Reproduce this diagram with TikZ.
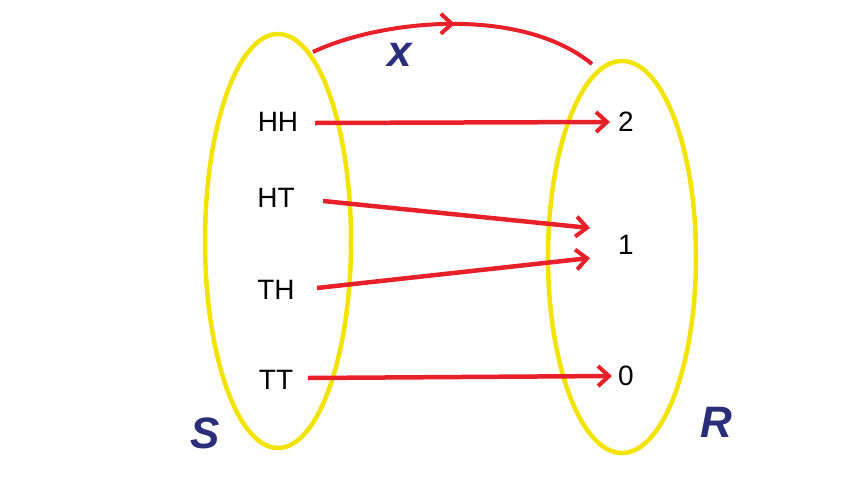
\documentclass[tikz,border=0pt]{standalone}
\usepackage{fontspec}
\setmainfont{Liberation Sans}
\usetikzlibrary{arrows.meta,decorations.markings}
\definecolor{ely}{HTML}{F2E300}
\definecolor{arr}{HTML}{E8202A}
\definecolor{lab}{HTML}{2B2F7A}
\begin{document}
\begin{tikzpicture}[x=1pt,y=-1pt,
  ell/.style={draw=ely,line width=4.5pt},
  el/.style={font=\fontsize{28}{30}\selectfont},
  ar/.style={draw=arr,line width=4.5pt,-{Straight Barb[length=11pt,width=20pt,line width=4pt]}},
  sl/.style={text=lab,font=\fontsize{44}{46}\selectfont\bfseries\itshape}]
\useasboundingbox (0,0) rectangle (862,496);
\draw[ell] (278,241) ellipse [x radius=73,y radius=207];
\draw[ell] (622,257) ellipse [x radius=74,y radius=196];
\node[el] (hh) at (278,122) {HH};
\node[el] (ht) at (276,198) {HT};
\node[el] (th) at (276,290) {TH};
\node[el] (tt) at (276,380) {TT};
\node[el] (two) at (626,122) {2};
\node[el] (one) at (626,245) {1};
\node[el] (zero) at (626,376) {0};
\draw[ar] (315,123) -- (610,122);
\draw[ar] (323,201) -- (590,228);
\draw[ar] (317,288) -- (590,258);
\draw[ar] (308,378) -- (612,376);
\coordinate (ca) at (313,52);
\coordinate (cb) at (592,64);
\draw[draw=arr,line width=4pt,
  postaction={decorate,decoration={markings,mark=at position 0.5 with {\arrow[line width=4pt]{Straight Barb[length=11pt,width=20pt]}}}}]
  (ca) .. controls (380,20) and (520,5) .. (cb);
\node[sl] (xl) at (400,55) {x};
\node[sl] (sl) at (205,433) {S};
\node[sl] (rl) at (716,422) {R};
\end{tikzpicture}
\end{document}
